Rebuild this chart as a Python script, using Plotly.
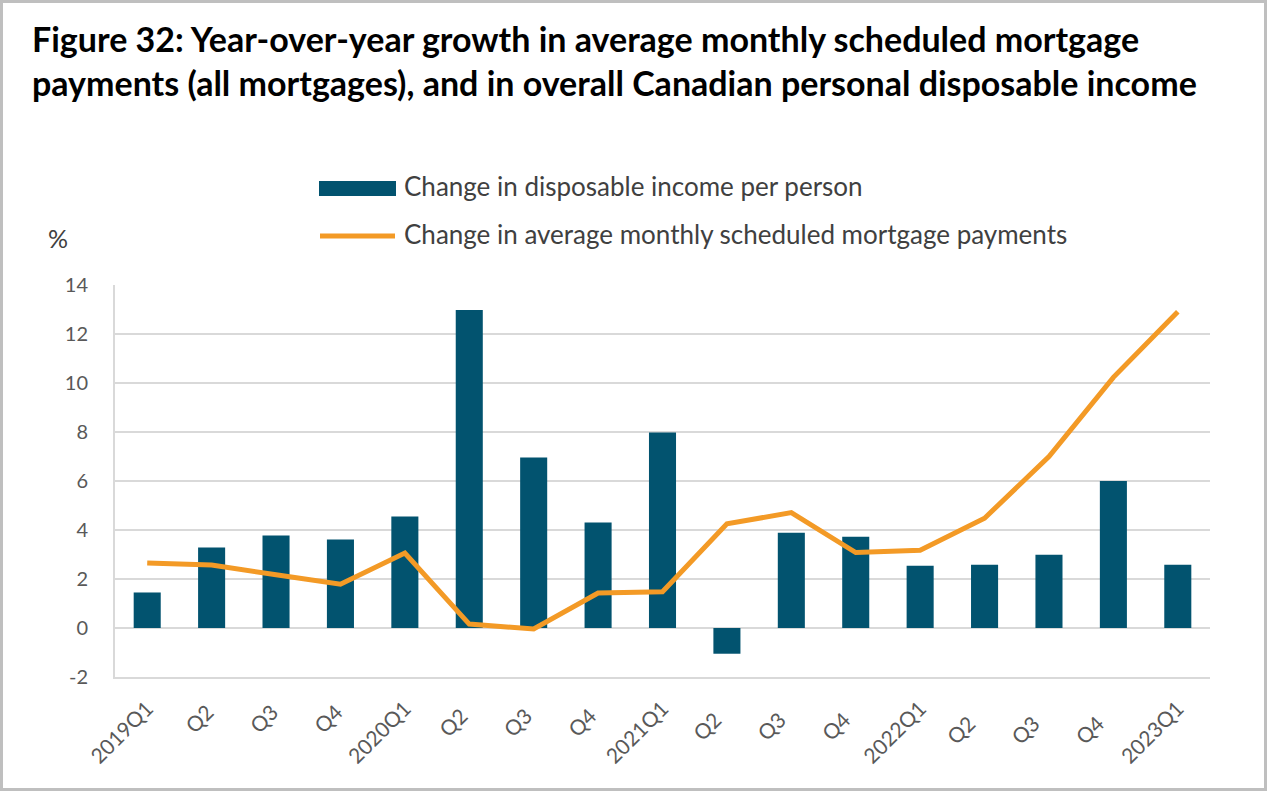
import plotly.graph_objects as go

# quarters shown on the x axis
quarters = ['2019Q1', 'Q2 ', 'Q3 ', 'Q4 ',
            '2020Q1', 'Q2  ', 'Q3  ', 'Q4  ',
            '2021Q1', 'Q2   ', 'Q3   ', 'Q4   ',
            '2022Q1', 'Q2    ', 'Q3    ', 'Q4    ',
            '2023Q1']

# year-over-year % change
income_change = [1.45, 3.29, 3.78, 3.61, 4.55, 12.98, 6.96, 4.31, 7.98,
                 -1.05, 3.89, 3.72, 2.54, 2.58, 2.99, 6.0, 2.58]
mortgage_change = [2.65, 2.57, 2.17, 1.79, 3.06, 0.16, -0.04, 1.43, 1.48,
                   4.25, 4.71, 3.08, 3.17, 4.48, 7.0, 10.23, 12.91]

y_ticks = [-2, 0, 2, 4, 6, 8, 10, 12, 14]
y_tick_labels = ['-2', '0', '2', '4', '6', '8', '10', '12', '14']

income_name = 'Change in disposable income per person'
mortgage_name = 'Change in average monthly scheduled mortgage payments'
title_text = ('<b>Figure 32: Year-over-year growth in average monthly scheduled mortgage<br>'
              'payments (all mortgages), and in overall Canadian personal disposable income</b>')

BLUE = '#02536F'
ORANGE = '#F39A26'
GRID = '#D9D9D9'
TXT = '#595959'
FONT = 'Lato'

W, H = 1267, 791
L, R, T, B = 115, 57, 285, 114
pw, ph = W - L - R, H - T - B


def px(x):
    return (x - L) / pw


def py(y):
    return 1 - (y - T) / ph


fig = go.Figure()
fig.add_trace(go.Bar(x=quarters, y=income_change, name=income_name,
                     marker=dict(color=BLUE, line=dict(width=0)),
                     showlegend=False))
fig.add_trace(go.Scatter(x=quarters, y=mortgage_change, name=mortgage_name,
                         mode='lines', line=dict(color=ORANGE, width=5),
                         showlegend=False))

shapes = [
    # outer frame
    dict(type='rect', xref='paper', yref='paper',
         x0=px(1.5), x1=px(W - 1.5), y0=py(H - 1.5), y1=py(1.5),
         line=dict(color='#BFBFBF', width=3), fillcolor='rgba(0,0,0,0)'),
    # legend keys
    dict(type='rect', xref='paper', yref='paper',
         x0=px(319), x1=px(396), y0=py(196), y1=py(181),
         line=dict(width=0), fillcolor=BLUE),
    dict(type='line', xref='paper', yref='paper',
         x0=px(320), x1=px(395), y0=py(236), y1=py(236),
         line=dict(color=ORANGE, width=5)),
]

annotations = [
    dict(text=title_text, xref='paper', yref='paper', x=px(30), y=py(16),
         xanchor='left', yanchor='top', align='left', showarrow=False,
         font=dict(family=FONT, size=34, color='black')),
    dict(text=income_name, xref='paper', yref='paper', x=px(402), y=py(186),
         xanchor='left', yanchor='middle', showarrow=False,
         font=dict(family=FONT, size=26, color='#404040')),
    dict(text=mortgage_name, xref='paper', yref='paper', x=px(402), y=py(234),
         xanchor='left', yanchor='middle', showarrow=False,
         font=dict(family=FONT, size=26, color='#404040')),
    dict(text='%', xref='paper', yref='paper', x=px(46), y=py(238),
         xanchor='left', yanchor='middle', showarrow=False,
         font=dict(family=FONT, size=25, color='#404040')),
]

fig.update_layout(
    width=W, height=H,
    margin=dict(l=L, r=R, t=T, b=B),
    paper_bgcolor='white', plot_bgcolor='white',
    bargap=0.58,
    shapes=shapes,
    annotations=annotations,
    font=dict(family=FONT),
)
fig.update_xaxes(type='category', showgrid=False, ticks='',
                 tickangle=-45, tickfont=dict(family=FONT, size=21, color=TXT),
                 ticklabelstandoff=9,
                 showline=True, linecolor=GRID, linewidth=2)
fig.update_yaxes(range=[-2, 14], tickvals=y_ticks, ticktext=y_tick_labels,
                 showgrid=True, gridcolor=GRID,
                 gridwidth=2, zeroline=True, zerolinecolor=GRID, zerolinewidth=2,
                 showline=True, linecolor=GRID, linewidth=2,
                 ticklabelstandoff=21,
                 tickfont=dict(family=FONT, size=20, color=TXT))

fig.write_html('out.html', config={'displayModeBar': False},
               post_script="document.body.style.margin='0';")
